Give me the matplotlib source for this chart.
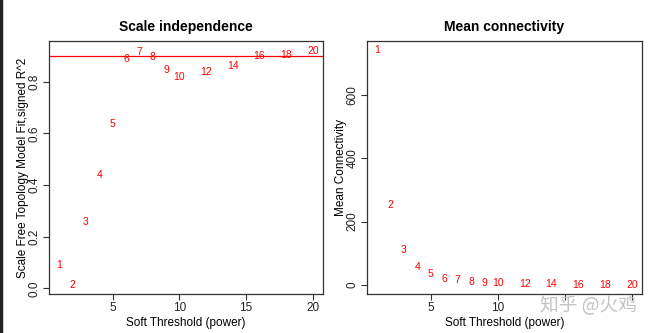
import matplotlib
matplotlib.use("Agg")
import matplotlib.pyplot as plt

plt.rcParams["font.family"] = ["Liberation Sans", "DejaVu Sans"]

powers = [1, 2, 3, 4, 5, 6, 7, 8, 9, 10, 12, 14, 16, 18, 20]
signed_r2 = [0.090, 0.013, 0.258, 0.439, 0.637, 0.889, 0.915, 0.895,
             0.846, 0.818, 0.836, 0.862, 0.898, 0.902, 0.920]
mean_k = [742, 253, 110, 56, 34, 19, 14, 9, 5, 5, 3, 2, 1, 1, 0.5]
r2_cutoff = 0.9

x_ticks = [5, 10, 15, 20]
left_xlabels = ["5", "10", "15", "20"]
# the watermark hides the last two labels of the right panel
right_xlabels = ["5", "10", "", ""]


def r_style(ax, xlim, ylim, xticklabels, yticks, yticklabels):
    ax.set_xlim(*xlim)
    ax.set_ylim(*ylim)
    ax.set_xticks(x_ticks)
    ax.set_xticklabels(xticklabels)
    ax.set_yticks(yticks)
    ax.set_yticklabels(yticklabels, rotation=90, va="center")
    ax.tick_params(direction="out", length=4, width=0.8, labelsize=8.5,
                   color="#333333", labelcolor="#222222", pad=2)
    for s in ax.spines.values():
        s.set_linewidth(0.9)
        s.set_color("#333333")


fig = plt.figure(figsize=(6.58, 3.33), dpi=100)
ax1 = fig.add_axes([0.0745, 0.117, 0.4164, 0.760])
ax2 = fig.add_axes([0.5578, 0.117, 0.4179, 0.760])

# Scale independence
for p, v in zip(powers, signed_r2):
    ax1.text(p, v, str(p), color="red", fontsize=7.5, ha="center", va="center")
ax1.axhline(r2_cutoff, color="red", lw=0.9)
r_style(ax1, (0.24, 20.76), (-0.022, 0.958), left_xlabels,
        [0.0, 0.2, 0.4, 0.6, 0.8], ["0.0", "0.2", "0.4", "0.6", "0.8"])
ax1.set_title("Scale independence", fontsize=10, fontweight="bold", pad=7)
ax1.set_xlabel("Soft Threshold (power)", fontsize=8.5, labelpad=2)
ax1.set_ylabel("Scale Free Topology Model Fit,signed R^2", fontsize=8.5, labelpad=0)

# Mean connectivity
for p, v in zip(powers, mean_k):
    ax2.text(p, v, str(p), color="red", fontsize=7.5, ha="center", va="center")
r_style(ax2, (0.24, 20.76), (-29, 771), right_xlabels,
        [0, 200, 400, 600], ["0", "200", "400", "600"])
ax2.set_title("Mean connectivity", fontsize=10, fontweight="bold", pad=7)
ax2.set_xlabel("Soft Threshold (power)", fontsize=8.5, labelpad=2)
ax2.set_ylabel("Mean Connectivity", fontsize=8.5, labelpad=0)

# watermark
fig.text(0.820, 0.083, "知乎 @火鸡", fontsize=13.5, color="#c4c4c4",
         family=["Noto Sans CJK SC", "DejaVu Sans"], ha="left", va="center")

# dark strip at left edge
fig.add_artist(plt.Line2D([0.002, 0.002], [0, 1], color="#222222", lw=2.5,
                          transform=fig.transFigure))

fig.savefig("out.png", dpi=100)
